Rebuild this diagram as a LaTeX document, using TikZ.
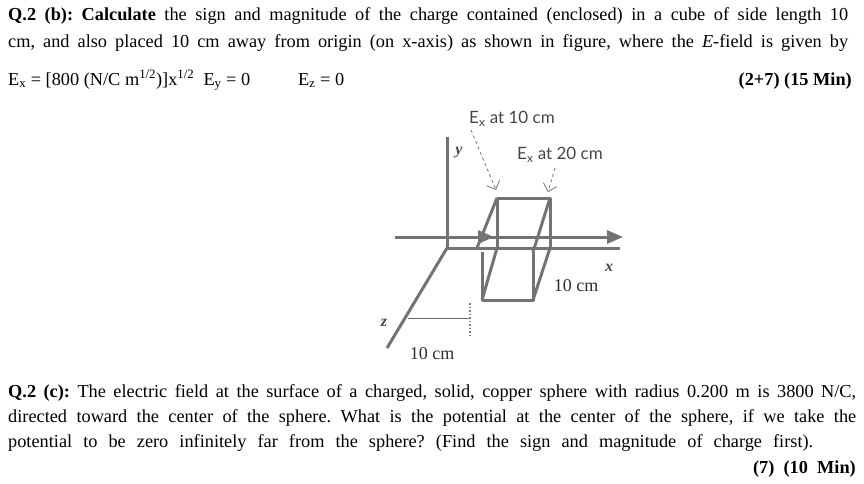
\documentclass[tikz,border=0pt]{standalone}
\usepackage{fontspec}
\usetikzlibrary{arrows.meta}
\setmainfont{Liberation Serif}
\newfontfamily\lab{Lato}
\frenchspacing
\begin{document}
\begin{tikzpicture}[x=1pt,y=-1pt,
  txt/.style={anchor=base west,inner sep=0,font=\fontsize{18.3}{20}\selectfont},
  fig/.style={draw=gray!90!black,line width=3pt},
  flab/.style={inner sep=0,text=gray!55!black,font=\lab\fontsize{17}{19}\selectfont},
  ptr/.style={draw=gray!90!black,line width=0.8pt,dashed,-{Straight Barb[length=7pt]}}]
\useasboundingbox (0,0) rectangle (864,483);
\node[txt] (l1) at (8,20) {\makebox[840pt][s]{\textbf{Q.2 (b): Calculate} the sign and magnitude of the charge contained (enclosed) in a cube of side length 10}};
\node[txt] (l2) at (8,47) {\makebox[840pt][s]{cm, and also placed 10 cm away from origin (on x-axis) as shown in figure, where the \textit{E}-field is given by}};
\node[txt] (l3) at (8,85) {E\textsubscript{x} = [800 (N/C m\textsuperscript{1/2})]x\textsuperscript{1/2}\ \ E\textsubscript{y} = 0};
\node[txt] (l3b) at (298,85) {E\textsubscript{z} = 0};
\node[txt,anchor=base east] (l3c) at (852,85) {\textbf{(2+7) (15 Min)}};
% figure
\coordinate (O) at (447,248);
\draw[fig] (447,137) -- (O) -- (620,248);
\draw[fig] (O) -- (387,348);
\draw[fig,-{Triangle[length=16pt,width=13pt]}] (395,237) -- (623,237);
\draw[fig,-{Triangle[length=16pt,width=13pt]}] (460,237) -- (494,237);
\draw[fig,line join=round] (497,248) -- (497,198) -- (550,198) -- (550,248);
\draw[fig,line join=round] (482,252) -- (482,300) -- (533,300) -- (533,252);
\draw[fig] (477,248) -- (497,198) (482,300) -- (497,248);
\draw[fig] (533,300) -- (550,248) (533,252) -- (550,198);
\draw[gray!80!black,line width=0.8pt] (408,318) -- (470,318);
\draw[gray,line width=1.5pt,dotted] (470,303) -- (470,335);
\node[flab] (e10) at (512,119) {E\textsubscript{x} at 10 cm};
\node[flab] (e20) at (560,155) {E\textsubscript{x} at 20 cm};
\draw[ptr] (471,130) -- (496,190);
\draw[ptr] (555,168) -- (548,192);
\node[inner sep=0,text=gray!55!black,font=\bfseries\itshape\fontsize{16}{17}\selectfont] (ly) at (459,153) {y};
\node[inner sep=0,text=gray!55!black,font=\bfseries\itshape\fontsize{16}{17}\selectfont] (lx) at (609,268) {x};
\node[inner sep=0,text=gray!55!black,font=\bfseries\itshape\fontsize{16}{17}\selectfont] (lz) at (384,323) {z};
\node[inner sep=0,text=gray!35!black,font=\fontsize{18}{18}\selectfont] (c1) at (576,286) {10 cm};
\node[inner sep=0,text=gray!35!black,font=\fontsize{18}{18}\selectfont] (c2) at (432,354) {10 cm};
% part c
\node[txt] (m1) at (8,397) {\makebox[848pt][s]{\textbf{Q.2 (c):} The electric field at the surface of a charged, solid, copper sphere with radius 0.200 m is 3800 N/C,}};
\node[txt] (m2) at (8,422) {\makebox[848pt][s]{directed toward the center of the sphere. What is the potential at the center of the sphere, if we take the}};
\node[txt] (m3) at (8,447) {\makebox[805pt][s]{potential to be zero infinitely far from the sphere? (Find the sign and magnitude of charge first).}};
\node[txt,anchor=base east] (m4) at (856,473) {\textbf{(7)\ \ (10\ \ Min)}};
\end{tikzpicture}
\end{document}
